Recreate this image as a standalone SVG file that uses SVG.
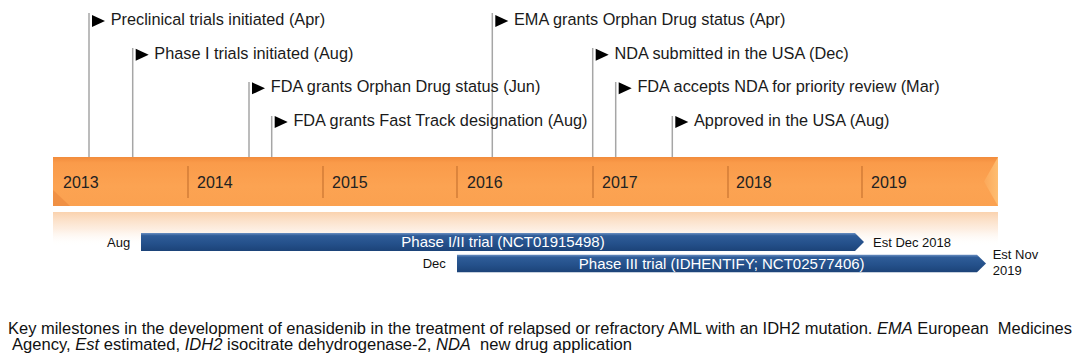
<svg xmlns="http://www.w3.org/2000/svg" width="1080" height="362" viewBox="0 0 1080 362">
<defs>
<linearGradient id="orange" x1="0" y1="0" x2="0" y2="1">
<stop offset="0" stop-color="#F28C3C"/>
<stop offset="0.12" stop-color="#FA9B4A"/>
<stop offset="0.6" stop-color="#FCA352"/>
<stop offset="1" stop-color="#FBA150"/>
</linearGradient>
<linearGradient id="refl" x1="0" y1="0" x2="0" y2="1">
<stop offset="0" stop-color="#FAD2AE" stop-opacity="1"/>
<stop offset="0.5" stop-color="#FCE6D3" stop-opacity="0.7"/>
<stop offset="1" stop-color="#FFFFFF" stop-opacity="0"/>
</linearGradient>
<linearGradient id="bevelR" x1="0" y1="0" x2="1" y2="0">
<stop offset="0" stop-color="#FCA859"/>
<stop offset="1" stop-color="#FEBE72"/>
</linearGradient>
<linearGradient id="blue" x1="0" y1="0" x2="0" y2="1">
<stop offset="0" stop-color="#6A8FC2"/>
<stop offset="0.15" stop-color="#2F5C98"/>
<stop offset="0.6" stop-color="#24508A"/>
<stop offset="1" stop-color="#1C4378"/>
</linearGradient>
</defs>
<style>
.ms { font-family: "Liberation Sans", Arial, sans-serif; font-size: 16.3px; fill: #1a1a1a; }
.yr { font-family: "Liberation Sans", Arial, sans-serif; font-size: 16px; fill: #222; }
.stem { stroke: #A6A6A6; stroke-width: 1.5; fill: none; }
.div { stroke: #C97431; stroke-width: 1.2; }
.tri { fill: #000; }
.bl { font-family: "Liberation Sans", Arial, sans-serif; font-size: 15px; fill: #fff; }
.sm { font-family: "Liberation Sans", Arial, sans-serif; font-size: 13px; fill: #111; }
.cap { font-family: "Liberation Sans", Arial, sans-serif; font-size: 16px; fill: #111; white-space: pre; }
</style>

<g id="timeline-bar">
<rect x="53" y="212" width="945" height="34" fill="url(#refl)"/>
<rect x="53" y="157" width="945" height="49" fill="url(#orange)"/>
<polygon points="53,190 53,206 70,206" fill="#E8843A" opacity="0.55"/>
<polygon points="998,157 984,181.5 998,206" fill="url(#bevelR)"/>
<line class="div" x1="188" y1="166" x2="188" y2="198"/>
<line class="div" x1="323" y1="166" x2="323" y2="198"/>
<line class="div" x1="457" y1="166" x2="457" y2="198"/>
<line class="div" x1="593" y1="166" x2="593" y2="198"/>
<line class="div" x1="728" y1="166" x2="728" y2="198"/>
<line class="div" x1="862" y1="166" x2="862" y2="198"/>
<text class="yr" x="63" y="188">2013</text>
<text class="yr" x="197" y="188">2014</text>
<text class="yr" x="332" y="188">2015</text>
<text class="yr" x="467" y="188">2016</text>
<text class="yr" x="602" y="188">2017</text>
<text class="yr" x="736" y="188">2018</text>
<text class="yr" x="871" y="188">2019</text>
</g>

<g id="connectors">
<line class="stem" x1="89" y1="13" x2="89" y2="157"/>
<line class="stem" x1="132.7" y1="48" x2="132.7" y2="157"/>
<line class="stem" x1="249" y1="82" x2="249" y2="157"/>
<line class="stem" x1="271.7" y1="116" x2="271.7" y2="157"/>
<line class="stem" x1="492.3" y1="13" x2="492.3" y2="157"/>
<line class="stem" x1="592.7" y1="48" x2="592.7" y2="157"/>
<line class="stem" x1="615.7" y1="82" x2="615.7" y2="157"/>
<line class="stem" x1="672.3" y1="116" x2="672.3" y2="157"/>
</g>

<g id="m-preclinical">
<polygon class="tri" points="92,15 105,21 92,27"/>
<text class="ms" x="110.7" y="25">Preclinical trials initiated (Apr)</text>
</g>
<g id="m-phase1">
<polygon class="tri" points="135.7,48.7 148.7,54.7 135.7,60.7"/>
<text class="ms" x="154.3" y="58.7">Phase I trials initiated (Aug)</text>
</g>
<g id="m-fda-orphan">
<polygon class="tri" points="252,82.3 265,88.3 252,94.3"/>
<text class="ms" x="270.7" y="92.3">FDA grants Orphan Drug status (Jun)</text>
</g>
<g id="m-fda-fasttrack">
<polygon class="tri" points="274.7,116 287.7,122 274.7,128"/>
<text class="ms" x="293.4" y="126">FDA grants Fast Track designation (Aug)</text>
</g>
<g id="m-ema">
<polygon class="tri" points="495.3,15 508.3,21 495.3,27"/>
<text class="ms" x="514" y="25">EMA grants Orphan Drug status (Apr)</text>
</g>
<g id="m-nda">
<polygon class="tri" points="595.7,48.7 608.7,54.7 595.7,60.7"/>
<text class="ms" x="614.4" y="58.7">NDA submitted in the USA (Dec)</text>
</g>
<g id="m-fda-accepts">
<polygon class="tri" points="618.7,82.3 631.7,88.3 618.7,94.3"/>
<text class="ms" x="637.4" y="92.3">FDA accepts NDA for priority review (Mar)</text>
</g>
<g id="m-approved">
<polygon class="tri" points="675.3,116 688.3,122 675.3,128"/>
<text class="ms" x="694" y="126">Approved in the USA (Aug)</text>
</g>

<g id="trial-phase12">
<polygon points="141,233 855,233 864,242 855,251 141,251" fill="url(#blue)"/>
<text class="bl" x="503" y="247.3" text-anchor="middle">Phase I/II trial (NCT01915498)</text>
<text class="sm" x="107" y="247">Aug</text>
<text class="sm" x="873" y="247">Est Dec 2018</text>
</g>
<g id="trial-phase3">
<polygon points="457,254.7 977,254.7 986,263.5 977,272.3 457,272.3" fill="url(#blue)"/>
<text class="bl" x="721.7" y="268.8" text-anchor="middle">Phase III trial (IDHENTIFY; NCT02577406)</text>
<text class="sm" x="422.7" y="268">Dec</text>
<text class="sm" x="992.7" y="259">Est Nov</text>
<text class="sm" x="992.7" y="275">2019</text>
</g>

<g id="caption">
<text class="cap" x="8" y="334" textLength="1064" lengthAdjust="spacingAndGlyphs">Key milestones in the development of enasidenib in the treatment of relapsed or refractory AML with an IDH2 mutation. <tspan font-style="italic">EMA</tspan> European  Medicines</text>
<text class="cap" x="12" y="350" textLength="620" lengthAdjust="spacingAndGlyphs">Agency, <tspan font-style="italic">Est</tspan> estimated, <tspan font-style="italic">IDH2</tspan> isocitrate dehydrogenase-2, <tspan font-style="italic">NDA</tspan>  new drug application</text>
</g>
</svg>
